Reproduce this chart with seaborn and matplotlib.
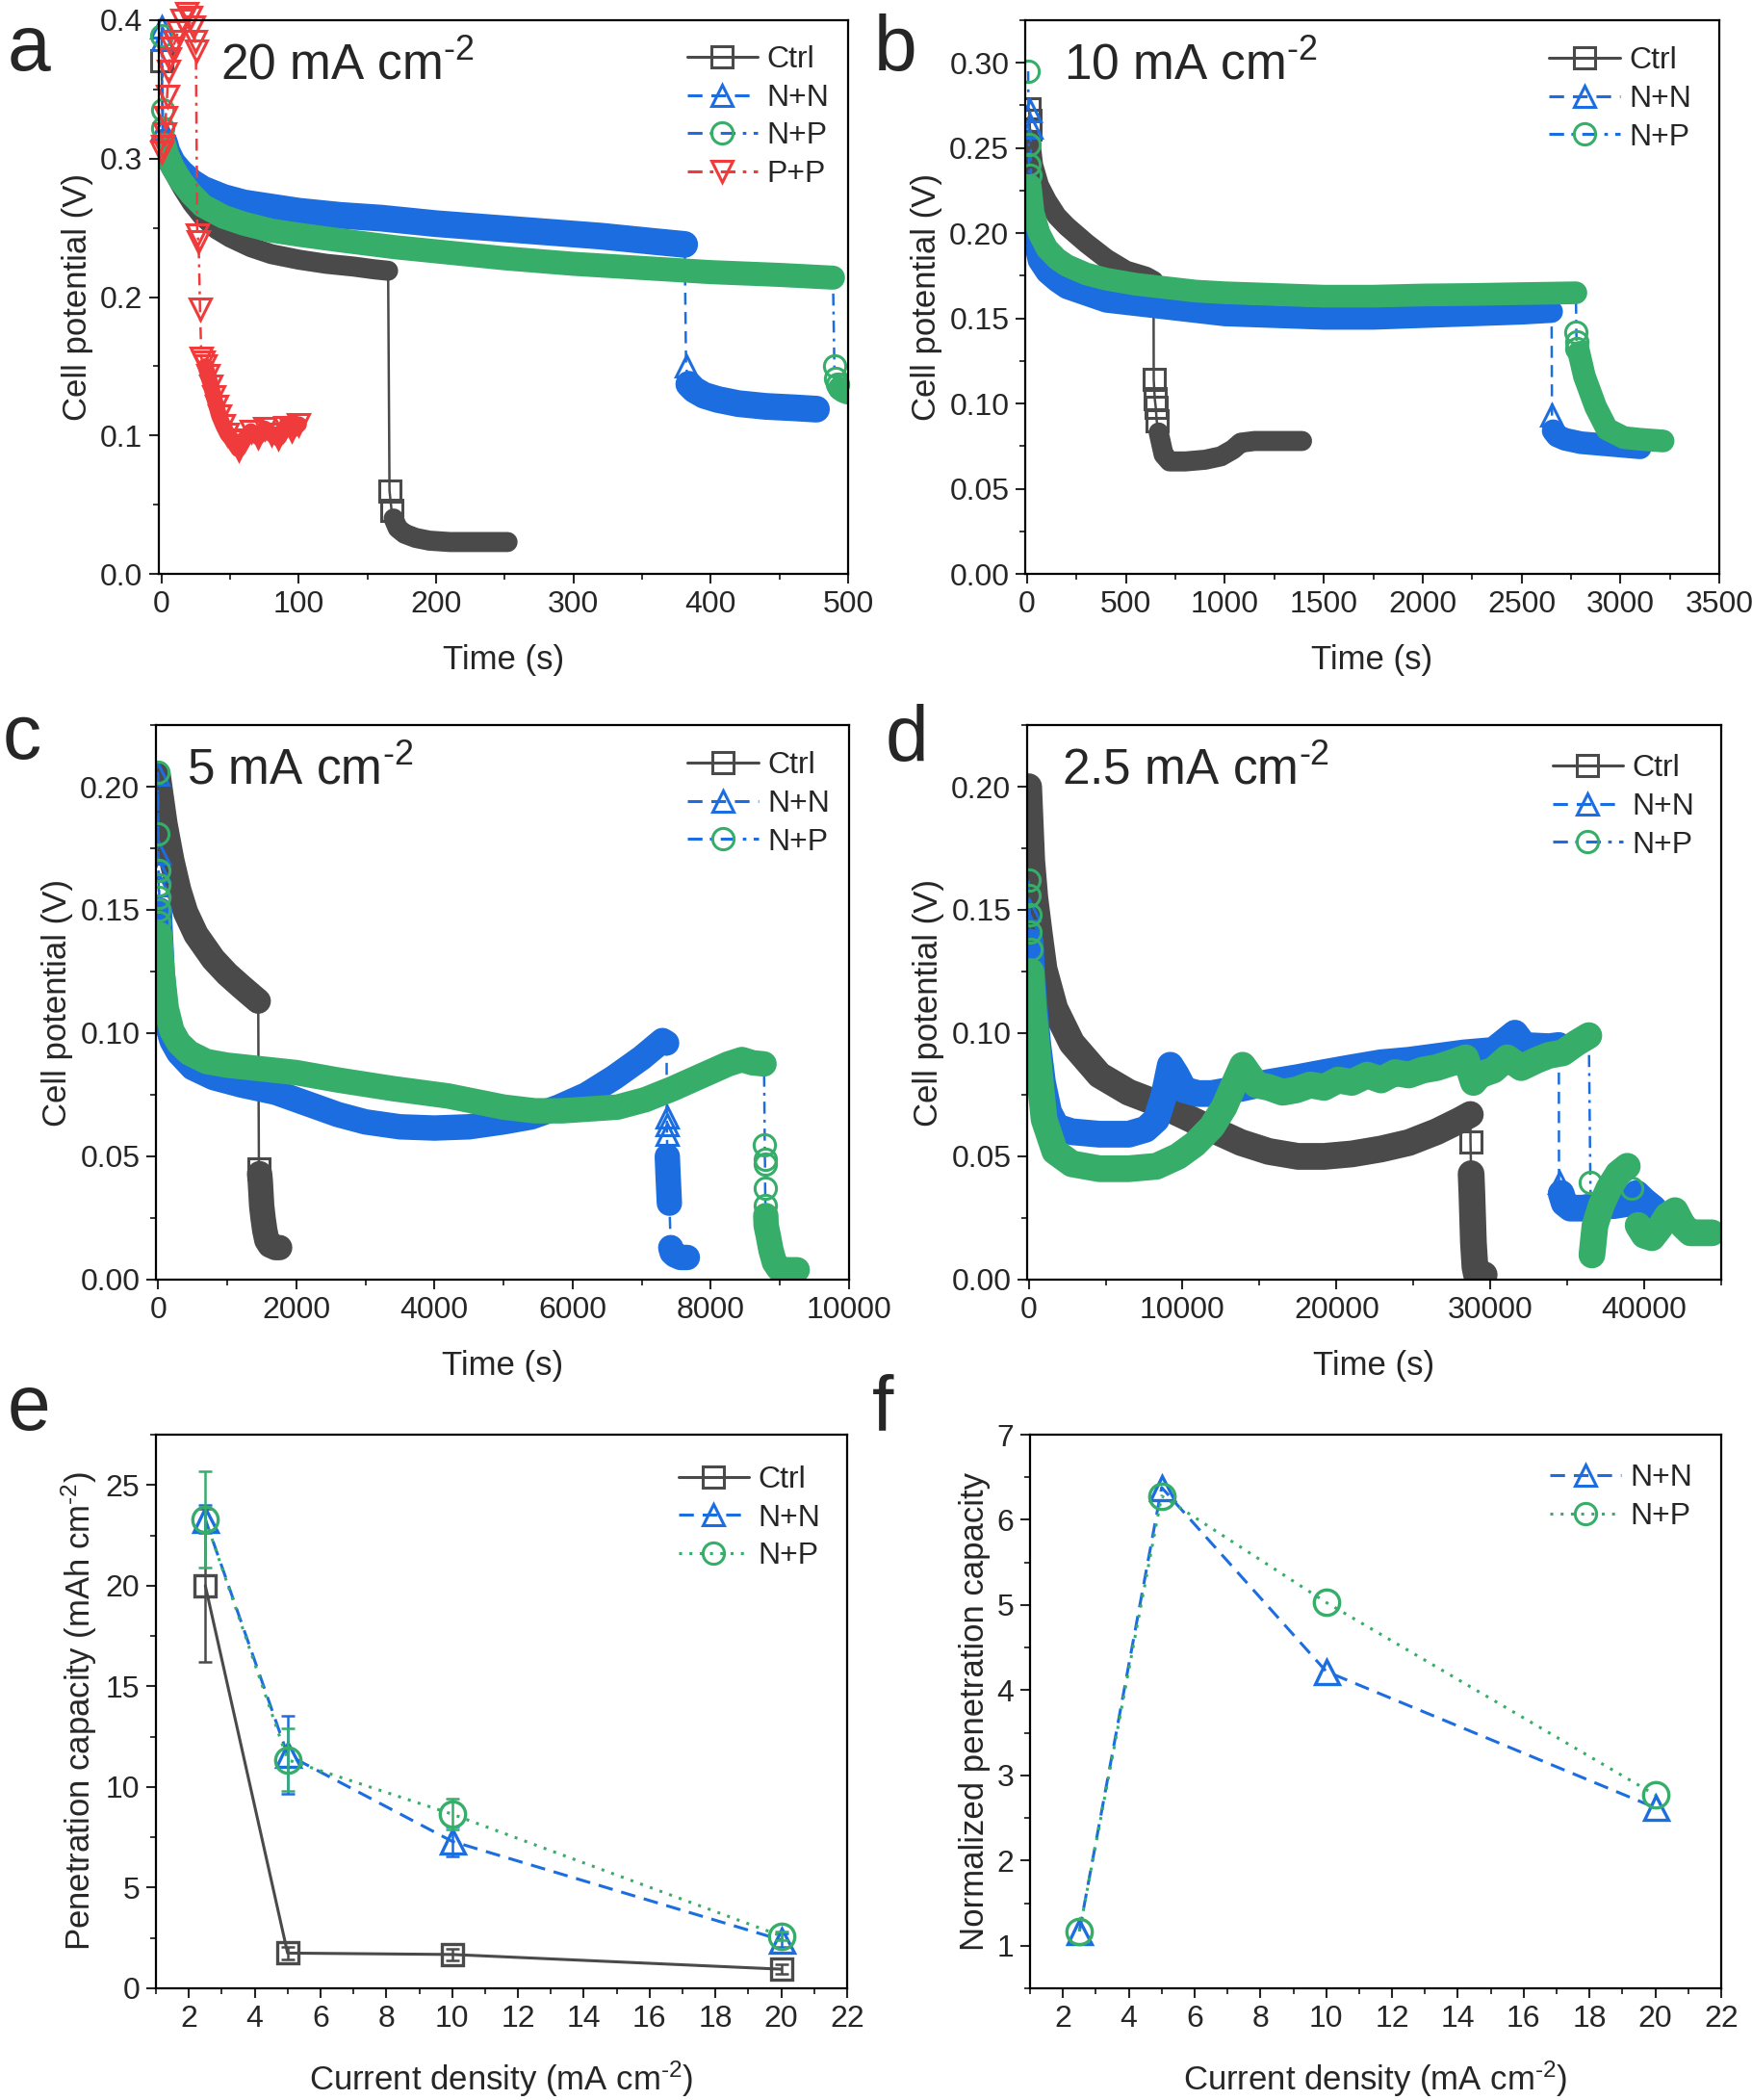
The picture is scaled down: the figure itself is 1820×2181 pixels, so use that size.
import numpy as np
import matplotlib
matplotlib.use('Agg')
import matplotlib.pyplot as plt
import seaborn as sns
from matplotlib.lines import Line2D
from matplotlib.ticker import MultipleLocator, FormatStrFormatter

# ---------------- data ----------------
# Panel a (20 mA cm-2): time (s), potential (V),
# flag: 1 = point inside a dense marker band, 0 = isolated hollow marker, 2 = starts a new band
a_ctrl_t = [0, 1, 3, 6, 10, 15, 22, 30, 40, 50, 65, 80, 100, 120, 140, 155, 165, 166, 167.5, 169, 172, 177, 185, 195, 210, 230, 252]
a_ctrl_v = [0.371, 0.305, 0.300, 0.295, 0.288, 0.279, 0.268, 0.258, 0.249, 0.243, 0.236, 0.231, 0.227, 0.224, 0.222, 0.220, 0.219, 0.060, 0.046, 0.040, 0.033, 0.029, 0.026, 0.024, 0.023, 0.023, 0.023]
a_ctrl_d = [0] + [1] * 16 + [0, 0] + [1] * 8

a_nn_t = [0, 0.5, 1, 2, 4, 8, 14, 22, 30, 45, 60, 80, 100, 130, 160, 200, 240, 280, 320, 360, 381, 382, 384, 388, 395, 405, 420, 440, 460, 477]
a_nn_v = [0.395, 0.386, 0.322, 0.312, 0.305, 0.297, 0.290, 0.283, 0.278, 0.272, 0.268, 0.265, 0.262, 0.259, 0.257, 0.253, 0.250, 0.247, 0.244, 0.240, 0.238, 0.150, 0.137, 0.133, 0.129, 0.126, 0.123, 0.121, 0.120, 0.119]
a_nn_d = [0, 0, 0] + [1] * 18 + [0] + [1] * 8

a_np_t = [0, 0.5, 1, 2, 4, 8, 14, 22, 30, 45, 60, 80, 100, 130, 170, 210, 250, 300, 350, 400, 450, 489, 490, 491, 492, 494, 497, 500]
a_np_v = [0.389, 0.335, 0.322, 0.310, 0.303, 0.294, 0.284, 0.274, 0.266, 0.258, 0.253, 0.248, 0.245, 0.241, 0.236, 0.232, 0.228, 0.224, 0.221, 0.218, 0.216, 0.214, 0.150, 0.141, 0.137, 0.134, 0.132, 0.131]
a_np_d = [0, 0, 0] + [1] * 19 + [0, 0, 0] + [1] * 3

a_pp_t = [0, 1, 2, 3, 4, 5, 6, 8, 10, 12, 15, 18, 21, 23, 24.5, 25, 26, 27, 28, 29, 30, 32, 34, 36, 38, 40, 42, 45, 48, 52, 56, 60, 65, 70, 75, 80, 85, 90, 95, 100]
a_pp_v = [0.305, 0.309, 0.318, 0.330, 0.345, 0.363, 0.372, 0.380, 0.385, 0.392, 0.400, 0.405, 0.402, 0.395, 0.385, 0.378, 0.245, 0.240, 0.191, 0.156, 0.153, 0.150, 0.143, 0.136, 0.128, 0.121, 0.114, 0.107, 0.101, 0.096, 0.090, 0.097, 0.103, 0.099, 0.105, 0.101, 0.098, 0.106, 0.104, 0.108]
a_pp_d = [0] * 21 + [1] * 19

# Panel b (10 mA cm-2)
b_ctrl_t = [10, 12, 14, 15, 30, 60, 100, 150, 200, 300, 400, 500, 600, 639, 640, 645, 650, 655, 665, 690, 720, 800, 900, 980, 1040, 1080, 1150, 1250, 1390]
b_ctrl_v = [0.273, 0.266, 0.261, 0.255, 0.240, 0.228, 0.219, 0.210, 0.204, 0.194, 0.185, 0.178, 0.1745, 0.172, 0.114, 0.103, 0.098, 0.090, 0.083, 0.070, 0.066, 0.066, 0.067, 0.069, 0.073, 0.077, 0.078, 0.078, 0.078]
b_ctrl_d = [0, 0, 0] + [1] * 11 + [0, 0, 0, 0] + [1] * 11

b_nn_t = [15, 18, 20, 30, 60, 100, 150, 200, 300, 400, 550, 700, 850, 1000, 1250, 1500, 1750, 2000, 2250, 2500, 2652, 2654, 2660, 2680, 2720, 2800, 2900, 3000, 3100]
b_nn_v = [0.272, 0.262, 0.215, 0.200, 0.184, 0.177, 0.172, 0.168, 0.164, 0.160, 0.158, 0.156, 0.154, 0.152, 0.151, 0.150, 0.150, 0.151, 0.152, 0.153, 0.154, 0.093, 0.084, 0.081, 0.079, 0.077, 0.076, 0.075, 0.074]
b_nn_d = [0, 0] + [1] * 19 + [0] + [1] * 7

b_np_t = [5, 8, 10, 12, 15, 30, 60, 100, 150, 200, 300, 400, 550, 700, 850, 1000, 1250, 1500, 1750, 2000, 2250, 2500, 2775, 2777, 2779, 2781, 2790, 2818, 2875, 2932, 3017, 3100, 3216]
b_np_v = [0.295, 0.252, 0.240, 0.234, 0.228, 0.212, 0.200, 0.191, 0.185, 0.181, 0.176, 0.173, 0.170, 0.168, 0.166, 0.165, 0.164, 0.163, 0.163, 0.1637, 0.164, 0.1645, 0.165, 0.142, 0.136, 0.132, 0.130, 0.116, 0.098, 0.085, 0.080, 0.079, 0.078]
b_np_d = [0, 0, 0, 0] + [1] * 19 + [0, 0, 0] + [1] * 7

# Panel c (5 mA cm-2)
c_ctrl_t = [0, 100, 200, 300, 400, 550, 800, 1000, 1200, 1450, 1460, 1470, 1480, 1490, 1500, 1520, 1545, 1575, 1620, 1700, 1760]
c_ctrl_v = [0.205, 0.185, 0.170, 0.158, 0.149, 0.140, 0.130, 0.124, 0.119, 0.113, 0.045, 0.043, 0.040, 0.035, 0.030, 0.025, 0.020, 0.016, 0.014, 0.013, 0.013]
c_ctrl_d = [1] * 10 + [0] + [1] * 10

c_nn_t = [0, 5, 10, 15, 20, 25, 60, 120, 200, 300, 500, 800, 1200, 1700, 2200, 2600, 3000, 3500, 4000, 4500, 5000, 5400, 5800, 6200, 6600, 7000, 7300, 7360, 7362, 7364, 7366, 7370, 7380, 7390, 7400, 7420, 7440, 7480, 7560, 7660]
c_nn_v = [0.205, 0.173, 0.166, 0.160, 0.150, 0.145, 0.125, 0.105, 0.097, 0.092, 0.086, 0.082, 0.079, 0.076, 0.071, 0.067, 0.064, 0.062, 0.0615, 0.062, 0.064, 0.066, 0.070, 0.075, 0.082, 0.090, 0.097, 0.096, 0.066, 0.063, 0.059, 0.050, 0.043, 0.037, 0.031, 0.013, 0.011, 0.010, 0.009, 0.009]
c_nn_d = [0, 0, 0, 0] + [1] * 24 + [0, 0, 0] + [1] * 4 + [2] + [1] * 4

c_np_t = [0, 3, 6, 9, 12, 15, 18, 25, 60, 120, 200, 300, 450, 700, 1000, 1500, 2000, 2600, 3400, 4200, 5000, 5450, 5850, 6650, 7050, 7450, 7850, 8250, 8450, 8600, 8770, 8780, 8782, 8784, 8786, 8790, 8795, 8800, 8830, 8870, 8920, 8980, 9050, 9150, 9250]
c_np_v = [0.206, 0.181, 0.166, 0.160, 0.155, 0.150, 0.145, 0.140, 0.125, 0.110, 0.101, 0.096, 0.092, 0.0885, 0.087, 0.0855, 0.084, 0.081, 0.0775, 0.0745, 0.070, 0.0685, 0.0685, 0.070, 0.073, 0.0775, 0.0825, 0.0875, 0.0893, 0.088, 0.0875, 0.0547, 0.049, 0.047, 0.037, 0.030, 0.026, 0.022, 0.018, 0.012, 0.007, 0.0045, 0.004, 0.004, 0.004]
c_np_d = [0] * 7 + [1] * 24 + [0] * 5 + [1] * 9

# Panel d (2.5 mA cm-2)
d_ctrl_t = [0, 100, 200, 400, 700, 1000, 1700, 2800, 4600, 6500, 8300, 10100, 11900, 13800, 15600, 17500, 19200, 21000, 22900, 24700, 26500, 28000, 28700, 28710, 28750, 28800, 28850, 28900, 29000, 29100, 29300, 29600]
d_ctrl_v = [0.200, 0.185, 0.170, 0.155, 0.140, 0.126, 0.110, 0.096, 0.083, 0.076, 0.0717, 0.0664, 0.061, 0.0556, 0.052, 0.050, 0.050, 0.051, 0.053, 0.0556, 0.060, 0.0646, 0.067, 0.056, 0.043, 0.035, 0.025, 0.015, 0.005, 0.002, 0.002, 0.002]
d_ctrl_d = [1] * 23 + [0] + [1] * 8

d_nn_t = [0, 50, 100, 150, 250, 400, 600, 900, 1300, 1800, 2800, 4600, 6500, 7600, 8300, 8800, 9200, 9600, 10100, 11000, 11900, 13800, 15600, 17500, 19200, 21000, 22900, 24700, 26500, 28300, 30200, 31600, 32200, 33800, 34450, 34460, 34600, 34800, 35200, 36000, 37000, 38000, 39000, 39500, 40000, 40600]
d_nn_v = [0.150, 0.144, 0.137, 0.130, 0.120, 0.108, 0.095, 0.080, 0.068, 0.062, 0.060, 0.059, 0.059, 0.061, 0.065, 0.075, 0.087, 0.083, 0.077, 0.0755, 0.0755, 0.0776, 0.080, 0.082, 0.084, 0.086, 0.088, 0.089, 0.0905, 0.092, 0.093, 0.100, 0.095, 0.0945, 0.095, 0.0395, 0.035, 0.031, 0.029, 0.029, 0.030, 0.030, 0.031, 0.035, 0.032, 0.029]
d_nn_d = [0, 0] + [1] * 33 + [0] + [1] * 10

d_np_t = [0, 30, 60, 90, 120, 150, 300, 600, 1000, 1700, 2800, 4600, 6500, 8300, 9700, 10800, 11900, 12700, 13400, 13900, 14800, 15600, 16500, 17400, 18300, 19200, 20100, 21000, 22000, 22900, 23800, 24700, 25600, 26500, 27500, 28400, 28900, 29300, 30200, 31100, 32000, 33000, 33800, 34700, 35600, 36400, 36500, 36600, 36800, 37200, 37700, 38300, 38900, 39200, 39600, 40000, 40500, 41000, 41500, 42000, 42500, 43000, 43600, 44400]
d_np_v = [0.162, 0.156, 0.148, 0.141, 0.134, 0.125, 0.110, 0.090, 0.065, 0.052, 0.047, 0.045, 0.045, 0.046, 0.050, 0.055, 0.062, 0.070, 0.080, 0.087, 0.079, 0.078, 0.076, 0.077, 0.079, 0.078, 0.081, 0.080, 0.083, 0.081, 0.084, 0.083, 0.085, 0.086, 0.088, 0.090, 0.080, 0.083, 0.085, 0.090, 0.086, 0.089, 0.091, 0.092, 0.096, 0.099, 0.0395, 0.010, 0.022, 0.030, 0.037, 0.043, 0.046, 0.037, 0.022, 0.018, 0.017, 0.021, 0.026, 0.028, 0.022, 0.019, 0.019, 0.019]
d_np_d = [0] * 5 + [1] * 41 + [0] + [1] * 6 + [0] + [1] * 10

# Panel e: penetration capacity (mAh cm-2) vs current density (mA cm-2)
e_current = [2.5, 5, 10, 20]
e_ctrl = [20.0, 1.75, 1.68, 0.95]
e_ctrl_err = [3.8, 0.3, 0.3, 0.25]
e_nn = [23.3, 11.6, 7.3, 2.4]
e_nn_err = [0.7, 1.95, 0.73, 0.35]
e_np = [23.3, 11.35, 8.65, 2.6]
e_np_err = [2.4, 1.55, 0.78, 0.2]

# Panel f: normalized penetration capacity
f_nn = [1.17, 6.38, 4.22, 2.62]
f_np = [1.17, 6.28, 5.03, 2.77]

# ---------------- style ----------------
sns.set_style('ticks')
plt.rcParams['font.family'] = ['Liberation Sans', 'DejaVu Sans']
plt.rcParams['mathtext.fontset'] = 'custom'
plt.rcParams['mathtext.rm'] = 'Liberation Sans'
plt.rcParams['mathtext.it'] = 'Liberation Sans:italic'
plt.rcParams['mathtext.default'] = 'regular'

GRAY = '#4a4a4a'
BLUE = '#1c6de0'
GREEN = '#37ad6a'
RED = '#ef3b3b'

TICK_FS = 23
LABEL_FS = 25
LEG_FS = 23
ANN_FS = 37
LETTER_FS = 58
SUP = r'$^{\text{-2}}$'
XPAD = 19
YPAD = 5

STY = {
    'Ctrl': dict(lc=GRAY, mc=GRAY, ls='-', mk='s'),
    'N+N': dict(lc=BLUE, mc=BLUE, ls=(0, (5, 3)), mk='^'),
    'N+P': dict(lc=BLUE, mc=GREEN, ls=(0, (5, 2.5, 1.2, 2.5)), mk='o'),
    'P+P': dict(lc=RED, mc=RED, ls=(0, (5, 2.5, 1.2, 2.5)), mk='v'),
}

fig = plt.figure(figsize=(18.2, 21.81), dpi=100)


def runs(flags):
    flags = list(flags)
    out = []
    start = None
    for i, f in enumerate(flags):
        if f == 0 or f == 2:
            if start is not None and i - start >= 2:
                out.append((start, i))
            start = i if f == 2 else None
        else:
            if start is None:
                start = i
    if start is not None and len(flags) - start >= 2:
        out.append((start, len(flags)))
    return out


def draw_series(ax, t, v, d, key, band_lw, ms=16, all_markers=False, clip=True):
    s = STY[key]
    t = np.asarray(t, float)
    v = np.asarray(v, float)
    d = np.asarray(d, int)
    # thin connecting line
    sns.lineplot(x=t, y=v, ax=ax, color=s['lc'], linestyle=s['ls'], linewidth=1.8,
                 sort=False, estimator=None, legend=False)
    # dense marker band
    for i0, i1 in runs(d):
        sns.lineplot(x=t[i0:i1], y=v[i0:i1], ax=ax, color=s['mc'], linewidth=band_lw,
                     sort=False, estimator=None, legend=False,
                     solid_capstyle='round', solid_joinstyle='round')
    m = np.ones(len(d), bool) if all_markers else (d == 0)
    if m.any():
        sns.lineplot(x=t[m], y=v[m], ax=ax, linestyle='none', marker=s['mk'], markersize=ms,
                     markerfacecolor='none', markeredgecolor=s['mc'], markeredgewidth=2.2,
                     sort=False, estimator=None, legend=False, clip_on=clip)


def style_axes(ax, xlim, ylim, xmaj, xmin, ymaj, ymin, yfmt=None):
    ax.set_xlim(*xlim)
    ax.set_ylim(*ylim)
    ax.xaxis.set_major_locator(MultipleLocator(xmaj))
    ax.xaxis.set_minor_locator(MultipleLocator(xmin))
    ax.yaxis.set_major_locator(MultipleLocator(ymaj))
    ax.yaxis.set_minor_locator(MultipleLocator(ymin))
    if yfmt:
        ax.yaxis.set_major_formatter(FormatStrFormatter(yfmt))
    for sp in ax.spines.values():
        sp.set_visible(True)
        sp.set_linewidth(1.6)
        sp.set_color('black')
    ax.tick_params(which='major', direction='out', length=7, width=1.5, labelsize=TICK_FS,
                   top=False, right=False, pad=5)
    ax.tick_params(which='minor', direction='out', length=4, width=1.3, top=False, right=False)
    ax.set_facecolor('white')


def legend(ax, keys, anchor, styles=None):
    handles = []
    for k in keys:
        s = STY[k] if styles is None else styles[k]
        handles.append(Line2D([0], [0], color=s['lc'], linestyle=s['ls'], linewidth=2.2,
                              marker=s['mk'], markersize=16, markerfacecolor='none',
                              markeredgecolor=s['mc'], markeredgewidth=2.2))
    ax.legend(handles, keys, loc='upper right', frameon=False, fontsize=LEG_FS,
              handlelength=2.3, handletextpad=0.3, labelspacing=0.3,
              borderaxespad=0.1, bbox_to_anchor=anchor)


W, H = 1820, 2181


def add_axes(l, r, top, bottom):
    return fig.add_axes([l / W, 1 - bottom / H, (r - l) / W, (bottom - top) / H])


def labels(ax, xl, yl):
    ax.set_xlabel(xl, fontsize=LABEL_FS, labelpad=XPAD)
    ax.set_ylabel(yl, fontsize=LABEL_FS, labelpad=YPAD)


# ---------------- panel a ----------------
ax = add_axes(165, 881, 21, 596)
draw_series(ax, a_ctrl_t, a_ctrl_v, a_ctrl_d, 'Ctrl', 15, clip=False)
draw_series(ax, a_nn_t, a_nn_v, a_nn_d, 'N+N', 20, clip=False)
draw_series(ax, a_np_t, a_np_v, a_np_d, 'N+P', 18, clip=False)
draw_series(ax, a_pp_t, a_pp_v, a_pp_d, 'P+P', 12, all_markers=True, clip=False)
style_axes(ax, (-2, 500), (0, 0.4), 100, 50, 0.1, 0.05, '%.1f')
labels(ax, 'Time (s)', 'Cell potential (V)')
ax.text(0.09, 0.96, '20 mA cm' + SUP, transform=ax.transAxes, fontsize=ANN_FS, va='top')
legend(ax, ['Ctrl', 'N+N', 'N+P', 'P+P'], (0.995, 0.982))

# ---------------- panel b ----------------
ax = add_axes(1065, 1786, 21, 596)
draw_series(ax, b_ctrl_t, b_ctrl_v, b_ctrl_d, 'Ctrl', 15)
draw_series(ax, b_nn_t, b_nn_v, b_nn_d, 'N+N', 17)
draw_series(ax, b_np_t, b_np_v, b_np_d, 'N+P', 17)
style_axes(ax, (-10, 3500), (0, 0.325), 500, 250, 0.05, 0.025, '%.2f')
labels(ax, 'Time (s)', 'Cell potential (V)')
ax.text(0.055, 0.96, '10 mA cm' + SUP, transform=ax.transAxes, fontsize=ANN_FS, va='top')
legend(ax, ['Ctrl', 'N+N', 'N+P'], (0.982, 0.98))

# ---------------- panel c ----------------
ax = add_axes(162, 882, 753, 1329)
draw_series(ax, c_ctrl_t, c_ctrl_v, c_ctrl_d, 'Ctrl', 19)
draw_series(ax, c_nn_t, c_nn_v, c_nn_d, 'N+N', 19)
draw_series(ax, c_np_t, c_np_v, c_np_d, 'N+P', 19)
style_axes(ax, (-30, 10000), (0, 0.225), 2000, 1000, 0.05, 0.025, '%.2f')
labels(ax, 'Time (s)', 'Cell potential (V)')
ax.text(0.045, 0.96, '5 mA cm' + SUP, transform=ax.transAxes, fontsize=ANN_FS, va='top')
legend(ax, ['Ctrl', 'N+N', 'N+P'], (0.995, 0.98))

# ---------------- panel d ----------------
ax = add_axes(1067, 1788, 753, 1329)
draw_series(ax, d_ctrl_t, d_ctrl_v, d_ctrl_d, 'Ctrl', 20)
draw_series(ax, d_nn_t, d_nn_v, d_nn_d, 'N+N', 20)
draw_series(ax, d_np_t, d_np_v, d_np_d, 'N+P', 20)
style_axes(ax, (-100, 45000), (0, 0.225), 10000, 5000, 0.05, 0.025, '%.2f')
labels(ax, 'Time (s)', 'Cell potential (V)')
ax.text(0.05, 0.96, '2.5 mA cm' + SUP, transform=ax.transAxes, fontsize=ANN_FS, va='top')
legend(ax, ['Ctrl', 'N+N', 'N+P'], (0.984, 0.975))

# ---------------- panel e ----------------
STY_E = {
    'Ctrl': dict(lc=GRAY, mc=GRAY, ls='-', mk='s'),
    'N+N': dict(lc=BLUE, mc=BLUE, ls=(0, (5, 3)), mk='^'),
    'N+P': dict(lc=GREEN, mc=GREEN, ls=(0, (1, 2.5)), mk='o'),
}
ax = add_axes(162, 880, 1490, 2065)
for key, y, err, ms in [('Ctrl', e_ctrl, e_ctrl_err, 16), ('N+N', e_nn, e_nn_err, 18), ('N+P', e_np, e_np_err, 19)]:
    s = STY_E[key]
    ax.errorbar(e_current, y, yerr=err, fmt='none', ecolor=s['mc'], elinewidth=1.8, capsize=5, capthick=1.8)
    sns.lineplot(x=e_current, y=y, ax=ax, color=s['lc'], linestyle=s['ls'], linewidth=2.2,
                 marker=s['mk'], markersize=ms, markerfacecolor='none', markeredgecolor=s['mc'],
                 markeredgewidth=2.4, sort=False, estimator=None, legend=False)
style_axes(ax, (1, 22), (0, 27.5), 2, 1, 5, 2.5)
labels(ax, 'Current density (mA cm' + SUP + ')', 'Penetration capacity (mAh cm' + SUP + ')')
legend(ax, ['Ctrl', 'N+N', 'N+P'], (0.984, 0.972), styles=STY_E)

# ---------------- panel f ----------------
ax = add_axes(1070, 1788, 1490, 2065)
for key, y, ms in [('N+N', f_nn, 18), ('N+P', f_np, 19)]:
    s = STY_E[key]
    sns.lineplot(x=e_current, y=y, ax=ax, color=s['lc'], linestyle=s['ls'], linewidth=2.2,
                 marker=s['mk'], markersize=ms, markerfacecolor='none', markeredgecolor=s['mc'],
                 markeredgewidth=2.4, sort=False, estimator=None, legend=False)
style_axes(ax, (1, 22), (0.5, 7), 2, 1, 1, 0.5)
labels(ax, 'Current density (mA cm' + SUP + ')', 'Normalized penetration capacity')
legend(ax, ['N+N', 'N+P'], (0.981, 0.975), styles=STY_E)

# ---------------- panel letters ----------------
for letter, x, y in [('a', 8, 73), ('b', 908, 73), ('c', 3, 788), ('d', 920, 790), ('e', 8, 1485), ('f', 906, 1485)]:
    fig.text(x / W, 1 - y / H, letter, fontsize=LETTER_FS, ha='left', va='baseline')

fig.savefig('out.png', dpi=100, facecolor='white')
